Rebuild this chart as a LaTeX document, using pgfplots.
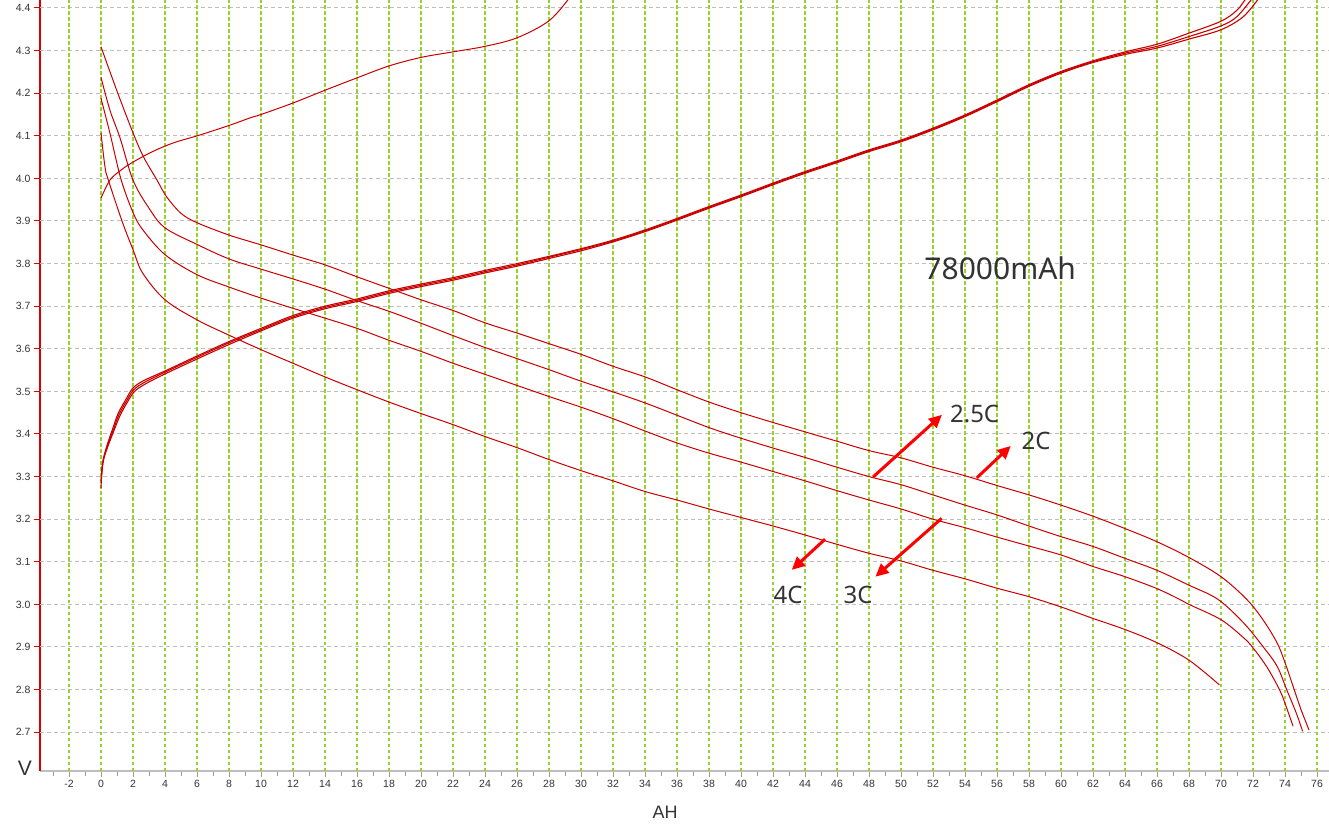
\documentclass[border=0pt]{standalone}
\usepackage{fontspec}
\setmainfont{Liberation Sans}
\newfontfamily\annfont{Noto Sans}
\usepackage{pgfplots}
\pgfplotsset{compat=1.18}
\usetikzlibrary{arrows.meta}
\definecolor{curve}{HTML}{C80000}
\definecolor{gridgreen}{RGB}{150,210,40}
\definecolor{gridgray}{RGB}{190,190,190}
\definecolor{txt}{HTML}{333333}
\begin{document}
\begin{tikzpicture}[
  cv/.style={draw=curve, line width=1pt, mark=none, smooth, tension=0.55},
  vgrid/.style={draw=gridgreen, line width=1.3pt, dash pattern=on 3.5pt off 2.5pt},
  hgrid/.style={draw=gridgray, line width=1pt, dash pattern=on 4pt off 3pt}]
\begin{axis}[
  at={(40pt,59pt)}, anchor=south west,
  width=1289pt, height=771pt, scale only axis,
  xmin=-3.8125, xmax=76.75,
  ymin=2.6089, ymax=4.4188,
  axis x line=bottom, axis y line=left,
  axis line style={-},
  x axis line style={draw=gridgray, line width=1.3pt},
  y axis line style={draw=red!85!black, line width=1.3pt},
  xtick={-2,0,...,76}, minor xtick={-3,-1,...,75},
  ytick={2.7,2.8,...,4.41},
  tick align=outside,
  major tick length=6pt, minor tick length=5pt,
  xtick style={draw=gray!80, line width=1pt},
  ytick style={draw=red!85!black, line width=1pt},
  yticklabel style={/pgf/number format/fixed, /pgf/number format/fixed zerofill, /pgf/number format/precision=1},
  /pgf/number format/assume math mode=true,
  ticklabel style={font=\fontsize{10.5}{12}\selectfont, text=txt},
]
% grid
\pgfplotsinvokeforeach{2.7,2.8,...,4.45}{\draw[hgrid] (axis cs:-3.8125,#1) -- (axis cs:76.75,#1);}
\pgfplotsinvokeforeach{-2,0,...,76}{\draw[vgrid] (axis cs:#1,2.6089) -- (axis cs:#1,4.4188);}
% discharge 2C
\addplot[cv] coordinates {
(0,4.309) (1,4.205) (2,4.107) (2.65,4.051) (3.5,3.996) (4.1,3.957) (5,3.918) (6,3.896)
(8,3.867) (10,3.844) (12,3.820) (14,3.797) (16,3.769) (18,3.742) (20,3.715) (22,3.690)
(24,3.661) (26,3.637) (28,3.612) (30,3.587) (32,3.559) (34,3.534) (36,3.504) (38,3.475)
(40,3.450) (42,3.427) (44,3.405) (46,3.383) (48,3.361) (50,3.344) (52,3.322) (54,3.302)
(56,3.279) (58,3.257) (60,3.233) (62,3.207) (64,3.178) (66,3.147) (68,3.110) (70,3.065)
(71.6,3.012) (72.6,2.965) (73.5,2.910) (74.0,2.863) (74.5,2.808) (75.0,2.753) (75.5,2.705)};
% discharge 2.5C
\addplot[cv] coordinates {
(0,4.237) (0.56,4.160) (1.19,4.095) (2,3.996) (3,3.930) (4,3.884) (6,3.845) (8,3.811)
(10,3.787) (12,3.764) (14,3.740) (16,3.713) (18,3.688) (20,3.660) (22,3.631) (24,3.603)
(26,3.577) (28,3.551) (30,3.524) (32,3.499) (34,3.473) (36,3.444) (38,3.415) (40,3.390)
(42,3.367) (44,3.345) (46,3.322) (48,3.300) (50,3.281) (52,3.257) (54,3.233) (56,3.210)
(58,3.184) (60,3.159) (62,3.136) (64,3.108) (66,3.080) (68,3.045) (69.8,3.012) (71.4,2.957)
(72.6,2.902) (73.5,2.855) (74.1,2.800) (74.7,2.745) (75.1,2.702)};
% discharge 3C
\addplot[cv] coordinates {
(0,4.188) (0.56,4.106) (1.25,3.998) (2,3.920) (2.6,3.880) (4,3.821) (6,3.774) (8,3.745)
(10,3.719) (12,3.695) (14,3.672) (16,3.648) (18,3.620) (20,3.594) (22,3.566) (24,3.540)
(26,3.514) (28,3.488) (30,3.463) (32,3.436) (34,3.407) (36,3.379) (38,3.355) (40,3.334)
(42,3.312) (44,3.290) (46,3.267) (48,3.245) (50,3.224) (52,3.200) (54,3.180) (56,3.158)
(58,3.137) (60,3.116) (62,3.089) (64,3.065) (66,3.037) (67.4,3.012) (68,3.000) (70,2.964)
(71.4,2.922) (72.0,2.898) (72.9,2.851) (73.7,2.796) (74.1,2.757) (74.5,2.714)};
% discharge 4C
\addplot[cv] coordinates {
(0,4.107) (0.25,4.027) (0.46,3.996) (1.35,3.896) (2,3.833) (2.6,3.778) (4,3.715) (6,3.668)
(8,3.632) (10,3.598) (12,3.566) (14,3.534) (16,3.504) (18,3.475) (20,3.448) (22,3.422)
(24,3.394) (26,3.368) (28,3.340) (30,3.314) (32,3.290) (34,3.265) (36,3.245) (38,3.224)
(40,3.204) (42,3.184) (44,3.163) (46,3.141) (48,3.120) (50,3.102) (52,3.080) (54,3.060)
(56,3.038) (58,3.018) (60,2.994) (62,2.967) (64,2.941) (66,2.910) (68,2.869) (69.9,2.811)};
% charge curves (bundle of three)
\addplot[cv, line width=1.1pt] coordinates {
(0,3.273) (0.1,3.331) (0.35,3.370) (0.7,3.409) (1.08,3.449) (1.6,3.484) (2,3.508) (2.65,3.525)
(4,3.548) (6,3.583) (8,3.617) (10,3.648) (12,3.678) (14,3.700) (16,3.717) (18,3.736)
(20,3.752) (22,3.767) (24,3.784) (26,3.800) (28,3.817) (30,3.835) (32,3.855) (34,3.879)
(36,3.906) (38,3.934) (40,3.961) (42,3.989) (44,4.016) (46,4.041) (48,4.067) (50,4.090)
(52,4.118) (54,4.149) (56,4.184) (58,4.220) (60,4.251) (62,4.276) (64,4.297) (66,4.315)
(68,4.341) (70,4.369) (71,4.395) (71.6,4.425)};
\addplot[cv, line width=1.1pt] coordinates {
(0,3.290) (0.12,3.335) (0.4,3.372) (0.75,3.408) (1.13,3.446) (1.65,3.481) (2.05,3.504) (2.7,3.521)
(4,3.545) (6,3.580) (8,3.614) (10,3.645) (12,3.675) (14,3.697) (16,3.714) (18,3.733)
(20,3.749) (22,3.764) (24,3.781) (26,3.797) (28,3.815) (30,3.833) (32,3.853) (34,3.877)
(36,3.904) (38,3.932) (40,3.959) (42,3.987) (44,4.014) (46,4.039) (48,4.065) (50,4.088)
(52,4.116) (54,4.147) (56,4.182) (58,4.218) (60,4.249) (62,4.274) (64,4.294) (66,4.310)
(68,4.333) (70,4.358) (71,4.380) (72,4.425)};
\addplot[cv, line width=1.1pt] coordinates {
(0.03,3.300) (0.15,3.338) (0.45,3.373) (0.8,3.407) (1.2,3.444) (1.7,3.478) (2.1,3.500) (2.75,3.517)
(4,3.541) (6,3.576) (8,3.610) (10,3.642) (12,3.672) (14,3.694) (16,3.711) (18,3.730)
(20,3.746) (22,3.761) (24,3.778) (26,3.794) (28,3.812) (30,3.830) (32,3.851) (34,3.875)
(36,3.902) (38,3.930) (40,3.957) (42,3.985) (44,4.012) (46,4.037) (48,4.063) (50,4.086)
(52,4.114) (54,4.145) (56,4.180) (58,4.216) (60,4.247) (62,4.272) (64,4.291) (66,4.306)
(68,4.327) (70,4.349) (71.4,4.380) (72.4,4.425)};
% separate charge curve
\addplot[cv] coordinates {
(0,3.954) (0.56,3.996) (1.2,4.018) (1.81,4.034) (3.06,4.060) (4.5,4.083) (6.19,4.102)
(8.06,4.125) (9.31,4.142) (10,4.150) (12,4.177) (14,4.207) (16,4.236) (18,4.264)
(20,4.284) (22,4.297) (24,4.310) (26,4.330) (28,4.370) (29.3,4.425)};
% annotations
\begin{scope}[red, line width=3pt, -{Triangle[length=13pt,width=12pt]}]
\draw (axis cs:48.25,3.299) -- (axis cs:52.56,3.445);
\draw (axis cs:54.73,3.297) -- (axis cs:56.86,3.372);
\draw (axis cs:52.54,3.202) -- (axis cs:48.40,3.065);
\draw (axis cs:45.25,3.153) -- (axis cs:43.17,3.081);
\end{scope}
\begin{scope}[every node/.style={text=txt, font=\annfont\fontsize{24}{28}\selectfont, inner sep=0pt}]
\node at (axis cs:54.6,3.448) {2.5C};
\node at (axis cs:58.44,3.384) {2C};
\node at (axis cs:47.31,3.022) {3C};
\node at (axis cs:42.94,3.022) {4C};
\node[font=\annfont\fontsize{30}{34}\selectfont] at (axis cs:56.2,3.79) {78000mAh};
\end{scope}
\end{axis}
\node[text=txt, font=\fontsize{21}{24}\selectfont, inner sep=0pt] at (25pt,62pt) {V};
\node[text=txt, font=\fontsize{18}{21}\selectfont, inner sep=0pt] at (665pt,18pt) {AH};
\pgfresetboundingbox
\useasboundingbox (0,0) rectangle (1329pt,830pt);
\end{tikzpicture}
\end{document}
